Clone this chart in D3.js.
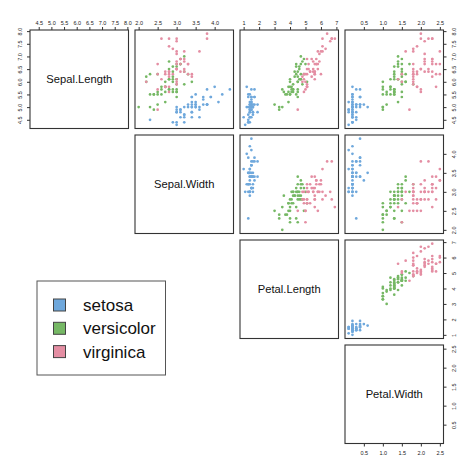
<!DOCTYPE html>
<html>
<head>
<meta charset="utf-8">
<script src="https://cdn.jsdelivr.net/npm/d3@7"></script>
<style>
  body { margin: 0; background: #fff; }
  svg { font-family: 'Liberation Sans', Arial, sans-serif; }
</style>
</head>
<body>
<svg width="474" height="474"></svg>
<script>
// iris data, one array per measurement (rows 1..150)
const sepalLength = [
  5.1,4.9,4.7,4.6,5.0,5.4,4.6,5.0,4.4,4.9,5.4,4.8,4.8,4.3,5.8,5.7,5.4,5.1,5.7,5.1,
  5.4,5.1,4.6,5.1,4.8,5.0,5.0,5.2,5.2,4.7,4.8,5.4,5.2,5.5,4.9,5.0,5.5,4.9,4.4,5.1,
  5.0,4.5,4.4,5.0,5.1,4.8,5.1,4.6,5.3,5.0,
  7.0,6.4,6.9,5.5,6.5,5.7,6.3,4.9,6.6,5.2,5.0,5.9,6.0,6.1,5.6,6.7,5.6,5.8,6.2,5.6,
  5.9,6.1,6.3,6.1,6.4,6.6,6.8,6.7,6.0,5.7,5.5,5.5,5.8,6.0,5.4,6.0,6.7,6.3,5.6,5.5,
  5.5,6.1,5.8,5.0,5.6,5.7,5.7,6.2,5.1,5.7,
  6.3,5.8,7.1,6.3,6.5,7.6,4.9,7.3,6.7,7.2,6.5,6.4,6.8,5.7,5.8,6.4,6.5,7.7,7.7,6.0,
  6.9,5.6,7.7,6.3,6.7,7.2,6.2,6.1,6.4,7.2,7.4,7.9,6.4,6.3,6.1,7.7,6.3,6.4,6.0,6.9,
  6.7,6.9,5.8,6.8,6.7,6.7,6.3,6.5,6.2,5.9];
const sepalWidth = [
  3.5,3.0,3.2,3.1,3.6,3.9,3.4,3.4,2.9,3.1,3.7,3.4,3.0,3.0,4.0,4.4,3.9,3.5,3.8,3.8,
  3.4,3.7,3.6,3.3,3.4,3.0,3.4,3.5,3.4,3.2,3.1,3.4,4.1,4.2,3.1,3.2,3.5,3.6,3.0,3.4,
  3.5,2.3,3.2,3.5,3.8,3.0,3.8,3.2,3.7,3.3,
  3.2,3.2,3.1,2.3,2.8,2.8,3.3,2.4,2.9,2.7,2.0,3.0,2.2,2.9,2.9,3.1,3.0,2.7,2.2,2.5,
  3.2,2.8,2.5,2.8,2.9,3.0,2.8,3.0,2.9,2.6,2.4,2.4,2.7,2.7,3.0,3.4,3.1,2.3,3.0,2.5,
  2.6,3.0,2.6,2.3,2.7,3.0,2.9,2.9,2.5,2.8,
  3.3,2.7,3.0,2.9,3.0,3.0,2.5,2.9,2.5,3.6,3.2,2.7,3.0,2.5,2.8,3.2,3.0,3.8,2.6,2.2,
  3.2,2.8,2.8,2.7,3.3,3.2,2.8,3.0,2.8,3.0,2.8,3.8,2.8,2.8,2.6,3.0,3.4,3.1,3.0,3.1,
  3.1,3.1,2.7,3.2,3.3,3.0,2.5,3.0,3.4,3.0];
const petalLength = [
  1.4,1.4,1.3,1.5,1.4,1.7,1.4,1.5,1.4,1.5,1.5,1.6,1.4,1.1,1.2,1.5,1.3,1.4,1.7,1.5,
  1.7,1.5,1.0,1.7,1.9,1.6,1.6,1.5,1.4,1.6,1.6,1.5,1.5,1.4,1.5,1.2,1.3,1.4,1.3,1.5,
  1.3,1.3,1.3,1.6,1.9,1.4,1.6,1.4,1.5,1.4,
  4.7,4.5,4.9,4.0,4.6,4.5,4.7,3.3,4.6,3.9,3.5,4.2,4.0,4.7,3.6,4.4,4.5,4.1,4.5,3.9,
  4.8,4.0,4.9,4.7,4.3,4.4,4.8,5.0,4.5,3.5,3.8,3.7,3.9,5.1,4.5,4.5,4.7,4.4,4.1,4.0,
  4.4,4.6,4.0,3.3,4.2,4.2,4.2,4.3,3.0,4.1,
  6.0,5.1,5.9,5.6,5.8,6.6,4.5,6.3,5.8,6.1,5.1,5.3,5.5,5.0,5.1,5.3,5.5,6.7,6.9,5.0,
  5.7,4.9,6.7,4.9,5.7,6.0,4.8,4.9,5.6,5.8,6.1,6.4,5.6,5.1,5.6,6.1,5.6,5.5,4.8,5.4,
  5.6,5.1,5.1,5.9,5.7,5.2,5.0,5.2,5.4,5.1];
const petalWidth = [
  0.2,0.2,0.2,0.2,0.2,0.4,0.3,0.2,0.2,0.1,0.2,0.2,0.1,0.1,0.2,0.4,0.4,0.3,0.3,0.3,
  0.2,0.4,0.2,0.5,0.2,0.2,0.4,0.2,0.2,0.2,0.2,0.4,0.1,0.2,0.2,0.2,0.2,0.1,0.2,0.2,
  0.3,0.3,0.2,0.6,0.4,0.3,0.2,0.2,0.2,0.2,
  1.4,1.5,1.5,1.3,1.5,1.3,1.6,1.0,1.3,1.4,1.0,1.5,1.0,1.4,1.3,1.4,1.5,1.0,1.5,1.1,
  1.8,1.3,1.5,1.2,1.3,1.4,1.4,1.7,1.5,1.0,1.1,1.0,1.2,1.6,1.5,1.6,1.5,1.3,1.3,1.3,
  1.2,1.4,1.2,1.0,1.3,1.2,1.3,1.3,1.1,1.3,
  2.5,1.9,2.1,1.8,2.2,2.1,1.7,1.8,1.8,2.5,2.0,1.9,2.1,2.0,2.4,2.3,1.8,2.2,2.3,1.5,
  2.3,2.0,2.0,1.8,2.1,1.8,1.8,1.8,2.1,1.6,1.9,2.0,2.2,1.5,1.4,2.3,2.4,1.8,1.8,2.1,
  2.4,2.3,1.9,2.3,2.5,2.3,1.9,2.0,2.3,1.8];
// species code per row: 0 setosa, 1 versicolor, 2 virginica
const speciesCode = [
  0,0,0,0,0,0,0,0,0,0,0,0,0,0,0,0,0,0,0,0,0,0,0,0,0,0,0,0,0,0,0,0,0,0,0,0,0,0,0,0,0,0,0,0,0,0,0,0,0,0,
  1,1,1,1,1,1,1,1,1,1,1,1,1,1,1,1,1,1,1,1,1,1,1,1,1,1,1,1,1,1,1,1,1,1,1,1,1,1,1,1,1,1,1,1,1,1,1,1,1,1,
  2,2,2,2,2,2,2,2,2,2,2,2,2,2,2,2,2,2,2,2,2,2,2,2,2,2,2,2,2,2,2,2,2,2,2,2,2,2,2,2,2,2,2,2,2,2,2,2,2,2];

const speciesNames = ['setosa', 'versicolor', 'virginica'];
const speciesColors = ['#6fa8dc', '#76b865', '#e48ea3'];

const varNames = ['Sepal.Length', 'Sepal.Width', 'Petal.Length', 'Petal.Width'];
const varValues = [sepalLength, sepalWidth, petalLength, petalWidth];
const varTicks = [
  [4.5, 5.0, 5.5, 6.0, 6.5, 7.0, 7.5, 8.0],
  [2.0, 2.5, 3.0, 3.5, 4.0],
  [1, 2, 3, 4, 5, 6, 7],
  [0.5, 1.0, 1.5, 2.0, 2.5]
];
const tickFormats = ['.1f', '.1f', 'd', '.1f'];

const svg = d3.select('svg');

const left0 = 30, top0 = 30;     // top-left of first panel
const step = 105;                 // panel pitch
const size = 98.5;                // panel side

const rows = d3.range(varNames.length).map(i => ({
  i,
  name: varNames[i],
  values: varValues[i]
}));

// R style 4% padded domain
const padded = vals => {
  const [lo, hi] = d3.extent(vals);
  const pad = (hi - lo) * 0.04;
  return [lo - pad, hi + pad];
};
const xScales = rows.map(r => d3.scaleLinear().domain(padded(r.values)).range([0, size]));
const yScales = rows.map(r => d3.scaleLinear().domain(padded(r.values)).range([size, 0]));

const styleAxis = (ag) => {
  ag.select('.domain').remove();
  ag.selectAll('.tick line').attr('stroke', '#333');
  ag.selectAll('.tick text')
    .attr('fill', '#222')
    .style('font-size', '5.5px')
    .style('font-family', "'Liberation Sans', Arial, sans-serif");
};

rows.forEach(ri => {
  rows.forEach(cj => {
    if (cj.i < ri.i) return;           // upper panels + diagonal only
    const g = svg.append('g')
      .attr('transform', `translate(${left0 + cj.i * step},${top0 + ri.i * step})`);

    if (ri.i === cj.i) {
      g.append('text')
        .attr('x', size / 2)
        .attr('y', size / 2)
        .attr('dy', '0.35em')
        .attr('text-anchor', 'middle')
        .attr('fill', '#111')
        .style('font-size', '11.2px')
        .text(ri.name);
    } else {
      const xs = xScales[cj.i], ys = yScales[ri.i];
      g.selectAll('circle')
        .data(d3.range(cj.values.length))
        .enter().append('circle')
          .attr('cx', k => xs(cj.values[k]))
          .attr('cy', k => ys(ri.values[k]))
          .attr('r', 1.35)
          .attr('fill', k => speciesColors[speciesCode[k]]);
    }

    // top axis on the first row
    if (ri.i === 0) {
      const ax = g.append('g').call(
        d3.axisTop(xScales[cj.i]).tickValues(varTicks[cj.i])
          .tickFormat(d3.format(tickFormats[cj.i])).tickSize(3).tickPadding(2.5));
      styleAxis(ax);
    }
    // bottom axis only under the last diagonal panel
    if (ri.i === rows.length - 1) {
      const ax = g.append('g').attr('transform', `translate(0,${size})`).call(
        d3.axisBottom(xScales[cj.i]).tickValues(varTicks[cj.i])
          .tickFormat(d3.format(tickFormats[cj.i])).tickSize(3).tickPadding(5));
      styleAxis(ax);
    }
    // left axis on the first column
    if (cj.i === 0) {
      const ax = g.append('g').call(
        d3.axisLeft(yScales[ri.i]).tickValues(varTicks[ri.i])
          .tickFormat(d3.format(tickFormats[ri.i])).tickSize(3));
      styleAxis(ax);
      ax.selectAll('.tick text')
        .attr('x', null).attr('dy', null)
        .attr('transform', 'translate(-8,0) rotate(-90)')
        .attr('text-anchor', 'middle');
    }
    // right axis on the last column
    if (cj.i === rows.length - 1) {
      const ax = g.append('g').attr('transform', `translate(${size},0)`).call(
        d3.axisRight(yScales[ri.i]).tickValues(varTicks[ri.i])
          .tickFormat(d3.format(tickFormats[ri.i])).tickSize(3));
      styleAxis(ax);
      ax.selectAll('.tick text')
        .attr('x', null).attr('dy', null)
        .attr('transform', 'translate(12,0) rotate(-90)')
        .attr('text-anchor', 'middle');
    }

    g.append('rect')
      .attr('width', size)
      .attr('height', size)
      .attr('fill', 'none')
      .attr('stroke', '#333')
      .attr('stroke-width', 1.1);
  });
});

// legend
const legend = svg.append('g').attr('transform', 'translate(37,281)');
legend.append('rect')
  .attr('width', 128.5)
  .attr('height', 94)
  .attr('fill', '#fff')
  .attr('stroke', '#555')
  .attr('stroke-width', 1);
const item = legend.selectAll('g.item')
  .data(speciesNames)
  .enter().append('g')
    .attr('class', 'item')
    .attr('transform', (d, k) => `translate(0,${24 + k * 23.3})`);
item.append('rect')
  .attr('x', 16.5).attr('y', -6)
  .attr('width', 12).attr('height', 12)
  .attr('fill', (d, k) => speciesColors[k])
  .attr('stroke', '#444')
  .attr('stroke-width', 1);
item.append('text')
  .attr('x', 46)
  .attr('dy', '0.35em')
  .attr('fill', '#111')
  .style('font-size', '17px')
  .text(d => d);
</script>
</body>
</html>
